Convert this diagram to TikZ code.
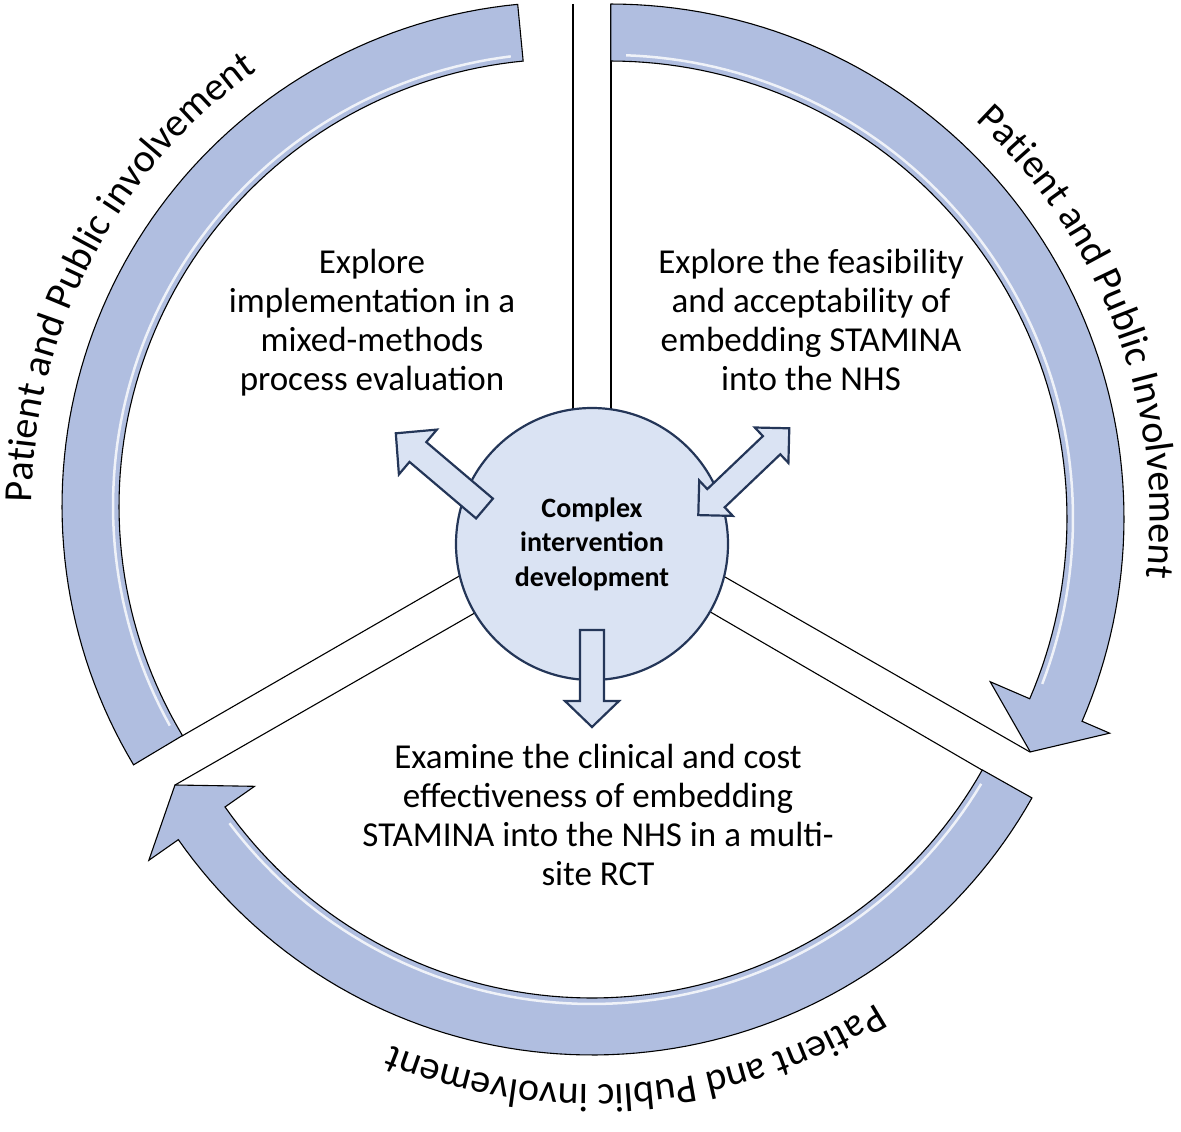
\documentclass[tikz,border=0pt]{standalone}
\usepackage{fontspec}
\setmainfont{Carlito}
\usetikzlibrary{decorations.text}

\definecolor{ringblue}{RGB}{176,190,224}
\definecolor{hubfill}{RGB}{218,227,243}
\definecolor{hubline}{RGB}{36,54,88}

\tikzset{
  ring/.style={fill=ringblue, draw=black, line width=1.1pt, line join=miter},
  gloss/.style={draw=white, line width=2.5pt, opacity=0.8},
  spoke/.style={draw=black, line width=1.1pt},
  hub/.style={circle, draw=hubline, line width=2.2pt, fill=hubfill, minimum size=272pt, inner sep=0pt, align=center, font=\fontsize{28}{34.5}\selectfont\bfseries},
  blockarrow/.style={draw=hubline, line width=2.2pt, fill=hubfill, line join=miter},
  stage/.style={align=center, inner sep=0pt, font=\fontsize{35}{39}\selectfont},
  ppi/.style={decorate, decoration={text along path, text align=center, text={|\fontsize{40}{48}\selectfont|#1}}}
}

\begin{document}
\begin{tikzpicture}[x=1pt, y=-1pt]
\useasboundingbox (0,0) rectangle (1181,1132);

% spokes between the three stages
\draw[spoke] (573,4) -- (573,543);
\draw[spoke] (611,4) -- (611,543);
\draw[spoke] (182,736) -- (520,541);
\draw[spoke] (175,785) -- (520,587);
\draw[spoke] (1030,752) -- (664,542);
\draw[spoke] (982,770) -- (664,585);

% left band
\draw[ring] plot[domain=-95.5:-210.9, samples=80] ({566+504*cos(\x)},{506+504*sin(\x)})
  -- plot[domain=-210.9:-95.5, samples=80] ({566+447*cos(\x)},{506+447*sin(\x)}) -- cycle;
\draw[gloss] plot[domain=-97:-209, samples=80] ({566+453*cos(\x)},{506+453*sin(\x)});

% right band with head
\draw[ring] plot[domain=-89.9:23.3, samples=80] ({610+514*cos(\x)},{518+514*sin(\x)})
  -- ({610+544*cos(23.3)},{518+544*sin(23.3)})
  -- ({610+481*cos(29.1)},{518+481*sin(29.1)})
  -- ({610+414*cos(23.3)},{518+414*sin(23.3)})
  -- plot[domain=23.3:-89.9, samples=80] ({610+457*cos(\x)},{518+457*sin(\x)}) -- cycle;
\draw[gloss] plot[domain=-88:21, samples=80] ({610+463*cos(\x)},{518+463*sin(\x)});

% bottom band with head
\draw[ring] plot[domain=29.4:145, samples=80] ({592+505*cos(\x)},{550+505*sin(\x)})
  -- ({592+541*cos(145)},{550+541*sin(145)})
  -- ({592+478.7*cos(150.6)},{550+478.7*sin(150.6)})
  -- ({592+412*cos(145)},{550+412*sin(145)})
  -- plot[domain=145:29.4, samples=80] ({592+448*cos(\x)},{550+448*sin(\x)}) -- cycle;
\draw[gloss] plot[domain=31:143, samples=80] ({592+454*cos(\x)},{550+454*sin(\x)});

% curved labels
\path[ppi=Patient and Public involvement] plot[domain=167.5:247.5, samples=100] ({566+534*cos(\x)},{506+534*sin(\x)});
\path[ppi=Patient and Public Involvement] plot[domain=-60.5:19.5, samples=100] ({610+540*cos(\x)},{518+540*sin(\x)});
\path[ppi=Patient and Public involvement] plot[domain=45:125, samples=100] ({592+535*cos(\x)},{550+535*sin(\x)});

% hub and its arrows
\node[hub] (hub) at (592,544) {Complex\\intervention\\development};

\draw[blockarrow] (492.9,498.6) -- (426.3,442.1) -- (436.9,429.6) -- (395.8,433.3)
  -- (398.9,474.4) -- (409.5,461.9) -- (476.1,518.4) -- cycle;
\draw[blockarrow] (789.3,428.3) -- (788.4,462.9) -- (780.3,454.3) -- (724.7,507.3)
  -- (732.8,515.9) -- (698.3,515.1) -- (699.2,480.5) -- (707.3,489.1)
  -- (762.9,436.1) -- (754.8,427.5) -- cycle;
\draw[blockarrow] (580,630) -- (604,630) -- (604,701) -- (619,701) -- (592,727)
  -- (565,701) -- (580,701) -- cycle;

% stage texts
\node[stage] (explore) at (372,323) {Explore\\implementation in a\\mixed-methods\\process evaluation};
\node[stage] (feasible) at (811,320) {Explore the feasibility\\and acceptability of\\embedding STAMINA\\into the NHS};
\node[stage] (examine) at (598,815) {Examine the clinical and cost\\effectiveness of embedding\\STAMINA into the NHS in a multi-\\site RCT};

\end{tikzpicture}
\end{document}
